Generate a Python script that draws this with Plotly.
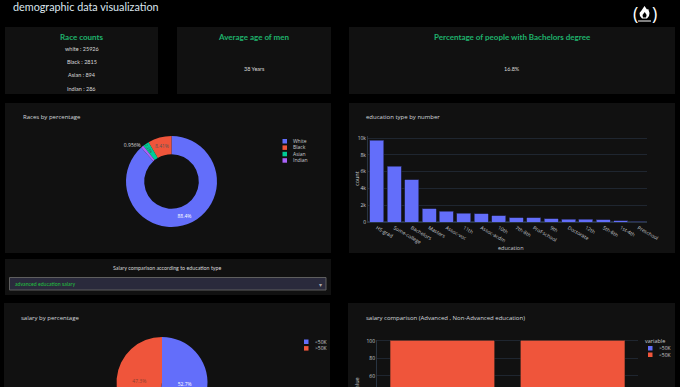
import plotly.graph_objects as go

W, H = 680, 560

race_labels = ["White", "Black", "Asian", "Indian"]
race_values = [26446, 2516, 668, 286]
race_colors = ["#636efa", "#EF553B", "#00cc96", "#ab63fa"]

education = ["HS-grad", "Some-college", "Bachelors", "Masters", "Assoc-voc", "11th",
             "Assoc-acdm", "10th", "7th-8th", "Prof-school", "9th", "Doctorate",
             "12th", "5th-6th", "1st-4th", "Preschool"]
education_count = [9760, 6630, 5040, 1600, 1300, 1030, 970, 750, 500, 500, 400, 350, 350, 250, 130, 40]

salary_labels = ["<50K", ">50K"]
salary_values = [52.7, 47.3]
salary_colors = ["#636efa", "#EF553B"]

compare_groups = ["Advanced", "Non-Advanced"]
compare_over = [46.0, 17.4]
compare_under = [54.0, 82.6]

cards = [(5, 27, 158, 94), (177, 27, 331, 94), (349, 27, 675, 94),
         (5, 103, 331, 253), (349, 103, 675, 253), (5, 259, 331, 295),
         (4, 303, 330, 560), (348, 303, 675, 560)]

def px(x):
    return x / W

def py(y):
    return 1 - y / H

fig = go.Figure()

fig.add_trace(go.Pie(labels=race_labels, values=race_values, hole=0.6, sort=False, direction="counterclockwise",
                     domain=dict(x=[px(126), px(217)], y=[py(227), py(136)]),
                     textposition=["inside", "inside", "inside", "outside"],
                     textfont=dict(size=5, color=["#ffffff", "#555555", "#444444", "#d8d8d8"]),
                     showlegend=False, marker=dict(colors=race_colors, line=dict(width=0))))
fig.add_trace(go.Pie(labels=salary_labels, values=salary_values, sort=False, direction="clockwise",
                     domain=dict(x=[px(116.5), px(207.5)], y=[py(428), py(337)]),
                     textposition="inside",
                     textfont=dict(size=5, color=["#ffffff", "#8a4030"]),
                     showlegend=False, marker=dict(colors=salary_colors, line=dict(width=0))))

fig.add_trace(go.Bar(x=education, y=education_count, showlegend=False, xaxis="x", yaxis="y",
                     marker=dict(color="#636efa", line=dict(color="#2a2c60", width=0.7))))
fig.add_trace(go.Bar(x=compare_groups, y=compare_over, name=">50K", xaxis="x2", yaxis="y2", showlegend=False,
                     marker=dict(color="#636efa", line=dict(color="#2a2c60", width=0.7))))
fig.add_trace(go.Bar(x=compare_groups, y=compare_under, name="<50K", xaxis="x2", yaxis="y2", showlegend=False,
                     marker=dict(color="#EF553B", line=dict(color="#8a3a2a", width=0.7))))

def rect(a, b, c, d, fill, line=None, layer="below"):
    return dict(type="rect", xref="paper", yref="paper", layer=layer, x0=px(a), y0=py(d), x1=px(c), y1=py(b),
                fillcolor=fill, line=line or dict(width=0))

shapes = [rect(a, b, c, d, "#111111") for a, b, c, d in cards]
shapes.append(rect(9.5, 277.5, 326, 290, "#2a2a3c", dict(color="#5f5f5f", width=1)))

def poly(points, fill):
    return dict(type="path", xref="paper", yref="paper", fillcolor=fill, line=dict(width=0),
                path="M " + " L ".join(f"{px(a):.5f},{py(b):.5f}" for a, b in points) + " Z")

shapes.append(poly([(644.5, 6), (647, 9.5), (648.2, 9), (649.5, 13), (649, 16), (647, 18.5), (642, 18.5),
                    (640, 16), (639.5, 13), (641.5, 10.5)], "white"))
shapes.append(poly([(644.8, 12), (646.6, 15), (646, 17.5), (643, 17.5), (642.5, 15)], "black"))
shapes.append(dict(type="line", xref="paper", yref="paper", x0=px(638), x1=px(651), y0=py(21), y1=py(21),
                   line=dict(color="white", width=1)))

def note(text, x, y, size, color="#d8d8d8", family="Lato", anchor="center", weight=None, angle=0):
    font = dict(size=size, color=color, family=family)
    if weight:
        font["weight"] = weight
    return dict(text=text, x=px(x), y=py(y), xref="paper", yref="paper", showarrow=False, xanchor=anchor,
                yanchor="middle", font=font, textangle=angle)

GREEN = "#1fb36c"
TITLE = "#d4d8dc"
annotations = [
    note("demographic data visualization", 11, 6.5, 10.8, "#dce6ee", anchor="left"),
    note("Race counts", 81.5, 37, 8, GREEN, weight=700),
    note("Average age of men", 254, 37, 8, GREEN, weight=700),
    note("Percentage of people with Bachelors degree", 512, 37, 8, GREEN, weight=700),
    note("white : 25926", 81.5, 48.5, 5.5),
    note("Black : 2815", 81.5, 62, 5.5),
    note("Asian : 894", 81.5, 75, 5.5),
    note("Indian : 286", 81.5, 88.5, 5.5),
    note("38 Years", 254, 68.5, 5.5),
    note("16.8%", 512, 68.5, 5.5),
    note("Races by percentage", 20.5, 117, 6, TITLE, "Open Sans", "left"),
    note("education type by number", 363.5, 117, 6, TITLE, "Open Sans", "left"),
    note("salary by percentage", 18.5, 318, 6, TITLE, "Open Sans", "left"),
    note("salary comparison (Advanced , Non-Advanced education)", 363.5, 318, 6, TITLE, "Open Sans", "left"),
    note("Salary comparison according to education type", 167, 268, 5.3),
    note("advanced education salary", 12.5, 284, 5.2, "#22c040", anchor="left"),
    note("▾", 320, 284, 6, "#aaaaaa"),
    note("(", 635, 13, 18, "white", "Open Sans"),
    note(")", 654, 13, 18, "white", "Open Sans"),
]

def legend(x, y, labels, colors, step, text_gap=4):
    for i, (label, color) in enumerate(zip(labels, colors)):
        yy = y + i * step
        shapes.append(rect(x, yy - 2, x + 4.5, yy + 2.5, color, layer="above"))
        annotations.append(note(label, x + 4.5 + text_gap, yy, 5, "#c8ccd0", "Open Sans", "left"))

legend(282.5, 141, race_labels, race_colors, 6.4)
legend(304, 341.5, salary_labels, salary_colors, 6.6)
annotations.append(note("variable", 643, 341, 5.5, "#c8ccd0", "Open Sans", "left"))
legend(648, 348, [">50K", "<50K"], salary_colors, 6.5)

tick = dict(size=5, color="#c8ccd0", family="Open Sans")
axis = dict(gridcolor="#1f2630", zerolinecolor="#283442", tickfont=tick, ticks="", linecolor="#283442",
            automargin=False)

annotations.append(note("education", 511, 248, 5.5, "#c8ccd0", "Open Sans"))
annotations.append(note("count", 357, 179, 5.5, "#c8ccd0", "Open Sans", angle=-90))
annotations.append(note("value", 357, 384, 5.5, "#c8ccd0", "Open Sans", angle=-90))

fig.update_layout(
    template="plotly_dark", width=W, height=H, autosize=False, showlegend=False,
    margin=dict(l=0, r=0, t=0, b=0, autoexpand=False), paper_bgcolor="black", plot_bgcolor="rgba(0,0,0,0)",
    font=dict(family="Open Sans", size=5.5), shapes=shapes, annotations=annotations,
    barmode="stack", bargap=0.2,
    xaxis=dict(axis, domain=[px(368), px(647)], anchor="y", tickangle=30, showgrid=False),
    yaxis=dict(axis, domain=[py(222), py(136)], anchor="x", range=[0, 10240], tickvals=[0, 2000, 4000, 6000, 8000, 10000],
               ticktext=["0", "2k", "4k", "6k", "8k", "10k"]),
    xaxis2=dict(axis, domain=[px(377), px(638)], anchor="y2", showgrid=False),
    yaxis2=dict(axis, domain=[py(428.5), py(339.5)], anchor="x2", range=[0, 101.5], tickvals=[0, 20, 40, 60, 80, 100]),
)

fig.write_html("out.html", config=dict(displayModeBar=False),
               post_script="document.body.style.margin='0';document.body.style.background='black';"
                           "document.body.style.overflow='hidden';document.documentElement.style.overflow='hidden';")
